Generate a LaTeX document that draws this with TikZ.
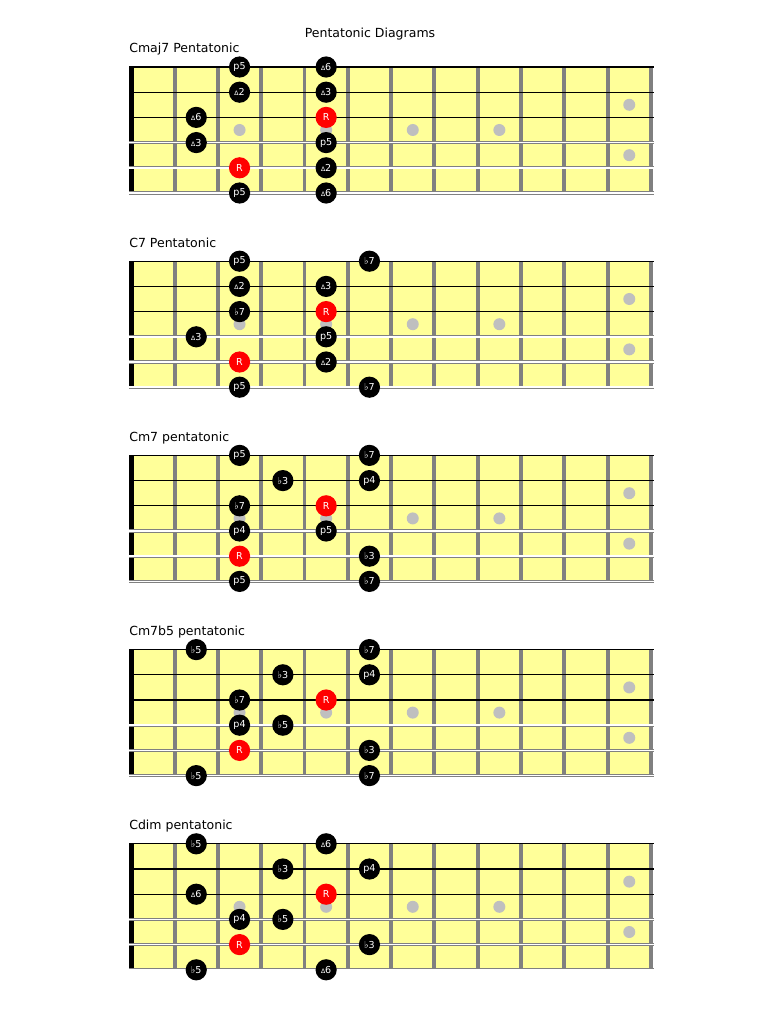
\documentclass[tikz,border=0pt]{standalone}
\usepackage{fontspec}
\setmainfont{DejaVu Sans}
\usepackage{tikz}

\tikzset{
  fretbar/.style={draw=fretgrey,line width=2.8pt},
  thinstring/.style={draw=black,line width=0.85pt},
  woundstring/.style={draw=fretgrey,line width=2.4pt},
  woundcore/.style={draw=white,line width=1.1pt},
  inlay/.style={fill=inlaygrey},
  note/.style={circle,fill=black,text=white,inner sep=0,minimum size=0.53cm,
    font=\fontsize{6.8}{7}\selectfont},
  root/.style={note,fill=red},
  boardlabel/.style={anchor=base west,inner sep=0,font=\fontsize{8.9}{10.7}\selectfont}
}
\newcommand{\tri}{{\fontsize{4.4}{5}\selectfont ∆}}

\begin{document}
\begin{tikzpicture}[x=0.025cm,y=-0.025cm]
    \definecolor{boardyellow}{rgb}{1, 1, 0.6}
    \definecolor{fretgrey}{rgb}{0.5, 0.5, 0.5}
    \definecolor{inlaygrey}{rgb}{0.75, 0.75, 0.75}
    \useasboundingbox (0,0) rectangle (768,1024);

    \node[anchor=base,inner sep=0,font=\fontsize{8.9}{10.7}\selectfont] (title) at (370,38) {Pentatonic Diagrams};

    % one fretboard per scale, 194.2 apart
    \foreach \d/\lbl in {0/Cmaj7 Pentatonic,1/C7 Pentatonic,2/Cm7 pentatonic,3/Cm7b5 pentatonic,4/Cdim pentatonic} {
      \begin{scope}[shift={(0,194.2*\d)}]
        \node[boardlabel] (label\d) at (129,53) {\lbl};
        \fill[boardyellow] (129,67) rectangle (653,193);
        \foreach \k in {1,...,12}
          \draw[fretbar] ({131.3+43.3*\k},67) -- ({131.3+43.3*\k},193);
        \fill[black] (129,67) rectangle (134,193);
        \foreach \c in {3,5,7,9}
          \fill[inlay] ({131.3+43.3*(\c-0.5)},130) circle [radius=0.15cm];
        \fill[inlay] ({131.3+43.3*11.5},104.8) circle [radius=0.15cm];
        \fill[inlay] ({131.3+43.3*11.5},155.2) circle [radius=0.15cm];
        \foreach \s in {1,2,3}
          \draw[thinstring] (129,{67+25.2*(\s-1)}) -- (654,{67+25.2*(\s-1)});
        \foreach \s in {4,5,6} {
          \draw[woundstring] (129,{67+25.2*(\s-1)}) -- (654,{67+25.2*(\s-1)});
          \draw[woundcore] (129,{67+25.2*(\s-1)}) -- (654,{67+25.2*(\s-1)});
        }
      \end{scope}
    }

    % Cmaj7 Pentatonic
    \foreach \s/\c/\st/\t in {1/3/note/p5,1/5/note/\tri6,2/3/note/\tri2,2/5/note/\tri3,
        3/2/note/\tri6,3/5/root/R,4/2/note/\tri3,4/5/note/p5,
        5/3/root/R,5/5/note/\tri2,6/3/note/p5,6/5/note/\tri6}
      \node[\st] (a\s-\c) at ({131.3+43.3*(\c-0.5)},{67+25.2*(\s-1)}) {\t};

    % C7 Pentatonic
    \begin{scope}[shift={(0,194.2)}]
    \foreach \s/\c/\st/\t in {1/3/note/p5,1/6/note/♭7,2/3/note/\tri2,2/5/note/\tri3,
        3/3/note/♭7,3/5/root/R,4/2/note/\tri3,4/5/note/p5,
        5/3/root/R,5/5/note/\tri2,6/3/note/p5,6/6/note/♭7}
      \node[\st] (b\s-\c) at ({131.3+43.3*(\c-0.5)},{67+25.2*(\s-1)}) {\t};
    \end{scope}

    % Cm7 pentatonic
    \begin{scope}[shift={(0,388.4)}]
    \foreach \s/\c/\st/\t in {1/3/note/p5,1/6/note/♭7,2/4/note/♭3,2/6/note/p4,
        3/3/note/♭7,3/5/root/R,4/3/note/p4,4/5/note/p5,
        5/3/root/R,5/6/note/♭3,6/3/note/p5,6/6/note/♭7}
      \node[\st] (c\s-\c) at ({131.3+43.3*(\c-0.5)},{67+25.2*(\s-1)}) {\t};
    \end{scope}

    % Cm7b5 pentatonic
    \begin{scope}[shift={(0,582.6)}]
    \foreach \s/\c/\st/\t in {1/2/note/♭5,1/6/note/♭7,2/4/note/♭3,2/6/note/p4,
        3/3/note/♭7,3/5/root/R,4/3/note/p4,4/4/note/♭5,
        5/3/root/R,5/6/note/♭3,6/2/note/♭5,6/6/note/♭7}
      \node[\st] (d\s-\c) at ({131.3+43.3*(\c-0.5)},{67+25.2*(\s-1)}) {\t};
    \end{scope}

    % Cdim pentatonic
    \begin{scope}[shift={(0,776.8)}]
    \foreach \s/\c/\st/\t in {1/2/note/♭5,1/5/note/\tri6,2/4/note/♭3,2/6/note/p4,
        3/2/note/\tri6,3/5/root/R,4/3/note/p4,4/4/note/♭5,
        5/3/root/R,5/6/note/♭3,6/2/note/♭5,6/5/note/\tri6}
      \node[\st] (e\s-\c) at ({131.3+43.3*(\c-0.5)},{67+25.2*(\s-1)}) {\t};
    \end{scope}

  \end{tikzpicture}
\end{document}
